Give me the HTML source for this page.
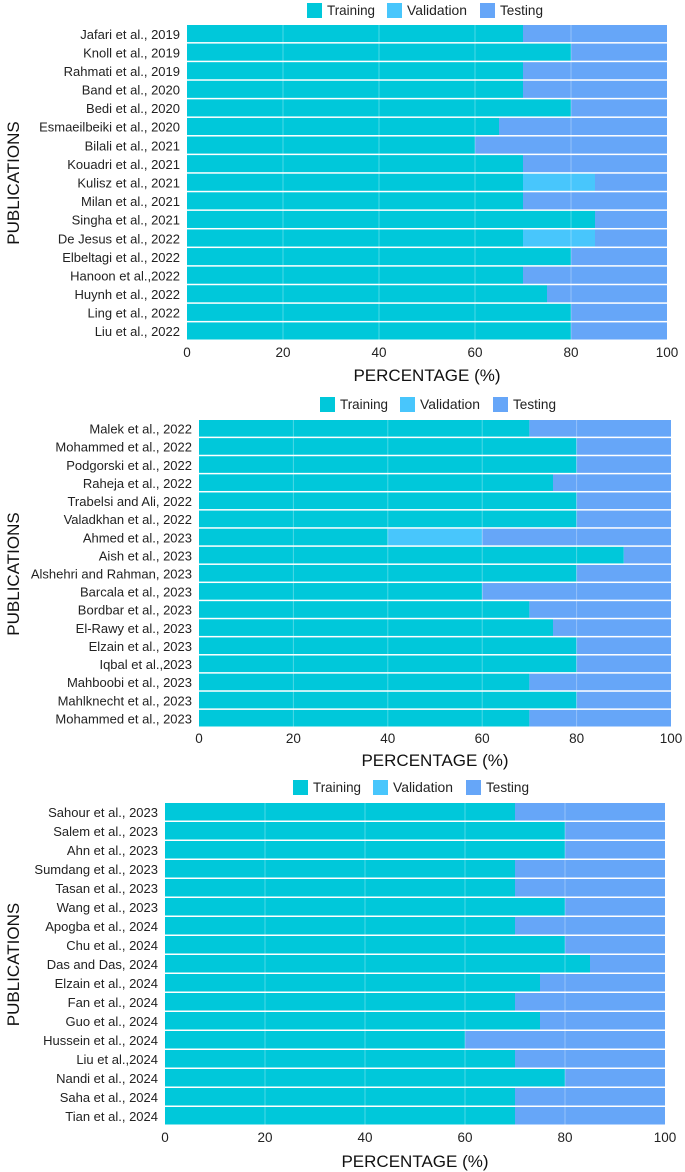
<!DOCTYPE html>
<html><head><meta charset="utf-8"><style>
body{margin:0;background:#fff;}
svg{display:block;font-family:"Liberation Sans",sans-serif;}
</style></head><body>
<svg id="chart" width="685" height="1172" xmlns="http://www.w3.org/2000/svg"></svg>
<script>
const p1Names=["Jafari et al., 2019","Knoll et al., 2019","Rahmati et al., 2019","Band et al., 2020","Bedi et al., 2020","Esmaeilbeiki et al., 2020","Bilali et al., 2021","Kouadri et al., 2021","Kulisz et al., 2021","Milan et al., 2021","Singha et al., 2021","De Jesus et al., 2022","Elbeltagi et al., 2022","Hanoon et al.,2022","Huynh et al., 2022","Ling et al., 2022","Liu et al., 2022"];
const p1Train=[70,80,70,70,80,65,60,70,70,70,85,70,80,70,75,80,80];
const p1Val=[0,0,0,0,0,0,0,0,15,0,0,15,0,0,0,0,0];
const p2Names=["Malek et al., 2022","Mohammed et al., 2022","Podgorski et al., 2022","Raheja et al., 2022","Trabelsi and Ali, 2022","Valadkhan et al., 2022","Ahmed et al., 2023","Aish et al., 2023","Alshehri and Rahman, 2023","Barcala et al., 2023","Bordbar et al., 2023","El-Rawy et al., 2023","Elzain et al., 2023","Iqbal et al.,2023","Mahboobi et al., 2023","Mahlknecht et al., 2023","Mohammed et al., 2023"];
const p2Train=[70,80,80,75,80,80,40,90,80,60,70,75,80,80,70,80,70];
const p2Val=[0,0,0,0,0,0,20,0,0,0,0,0,0,0,0,0,0];
const p3Names=["Sahour et al., 2023","Salem et al., 2023","Ahn et al., 2023","Sumdang et al., 2023","Tasan et al., 2023","Wang et al., 2023","Apogba et al., 2024","Chu et al., 2024","Das and Das, 2024","Elzain et al., 2024","Fan et al., 2024","Guo et al., 2024","Hussein et al., 2024","Liu et al.,2024","Nandi et al., 2024","Saha et al., 2024","Tian et al., 2024"];
const p3Train=[70,80,80,70,70,80,70,80,85,75,70,75,60,70,80,70,70];
const p3Val=[0,0,0,0,0,0,0,0,0,0,0,0,0,0,0,0,0];
const ticks=[0,20,40,60,80,100];

const NS="http://www.w3.org/2000/svg";
const svg=document.getElementById('chart');
function mk(tag,attrs,parent){const e=document.createElementNS(NS,tag);for(const k in attrs)e.setAttribute(k,attrs[k]);(parent||svg).appendChild(e);return e;}
const C={t:"#00c8da",v:"#48c6fc",s:"#66a6f8"};

function panel(id,names,train,val,x0,x1,y0,y1,lx,legY,tickY,titleY){
  const g=mk('g',{});
  
  
  const n=names.length, pitch=(y1-y0)/n;
  const xs=v=>x0+(x1-x0)*v/100;
  const items=[["Training",C.t,0,48],["Validation",C.v,80,60],["Testing",C.s,173,43]];
  items.forEach(([lab,col,off,w])=>{
    const lg=mk('g',{},g);
    
    
    mk('rect',{x:lx+off,y:legY-7,width:15,height:15,fill:col},lg);
    const t=mk('text',{x:lx+off+20,y:legY+5,'font-size':14,fill:'#222',textLength:w,lengthAdjust:'spacingAndGlyphs'},lg);t.textContent=lab;
  });
  names.forEach((nm,i)=>{
    const y=y0+i*pitch;
    const tr=train[i],va=val[i];
    const r1=mk('rect',{x:xs(0),y:y,width:xs(tr)-xs(0),height:pitch-1.5,fill:C.t},g);
    
    
    if(va>0){const r2=mk('rect',{x:xs(tr),y:y,width:xs(tr+va)-xs(tr),height:pitch-1.5,fill:C.v},g);
      
      }
    const r3=mk('rect',{x:xs(tr+va),y:y,width:xs(100)-xs(tr+va),height:pitch-1.5,fill:C.s},g);
    
    
    const t=mk('text',{x:x0-7,y:y+pitch/2+4.5,'font-size':13,'text-anchor':'end',fill:'#222'},g);
    
    
    t.textContent=nm;
  });
  ticks.forEach(v=>{
    if(v>0&&v<100)mk('line',{x1:xs(v),x2:xs(v),y1:y0,y2:y1,stroke:'#fff','stroke-opacity':0.3,'stroke-width':1},g);
    const t=mk('text',{x:xs(v),y:tickY+5,'font-size':13.5,'text-anchor':'middle',fill:'#222'},g);
    
    
    t.textContent=v;
  });
  const xt=mk('text',{x:(x0+x1)/2,y:titleY+6,'font-size':17,'text-anchor':'middle',fill:'#111'},g);
  
  
  xt.textContent="PERCENTAGE (%)";
  const cy=(y0+y1)/2;
  const yt=mk('text',{x:19,y:cy,'font-size':17,'text-anchor':'middle',fill:'#111',transform:`rotate(-90 19 ${cy})`},g);
  
  
  yt.textContent="PUBLICATIONS";
}
panel('panel-2019-2022',p1Names,p1Train,p1Val,187,667,25,341,307,10,352,375);
panel('panel-2022-2023',p2Names,p2Train,p2Val,199,671,420,728,320,404,738,760);
panel('panel-2023-2024',p3Names,p3Train,p3Val,165,665,803,1126,293,787,1137,1161);
</script>
</body></html>
